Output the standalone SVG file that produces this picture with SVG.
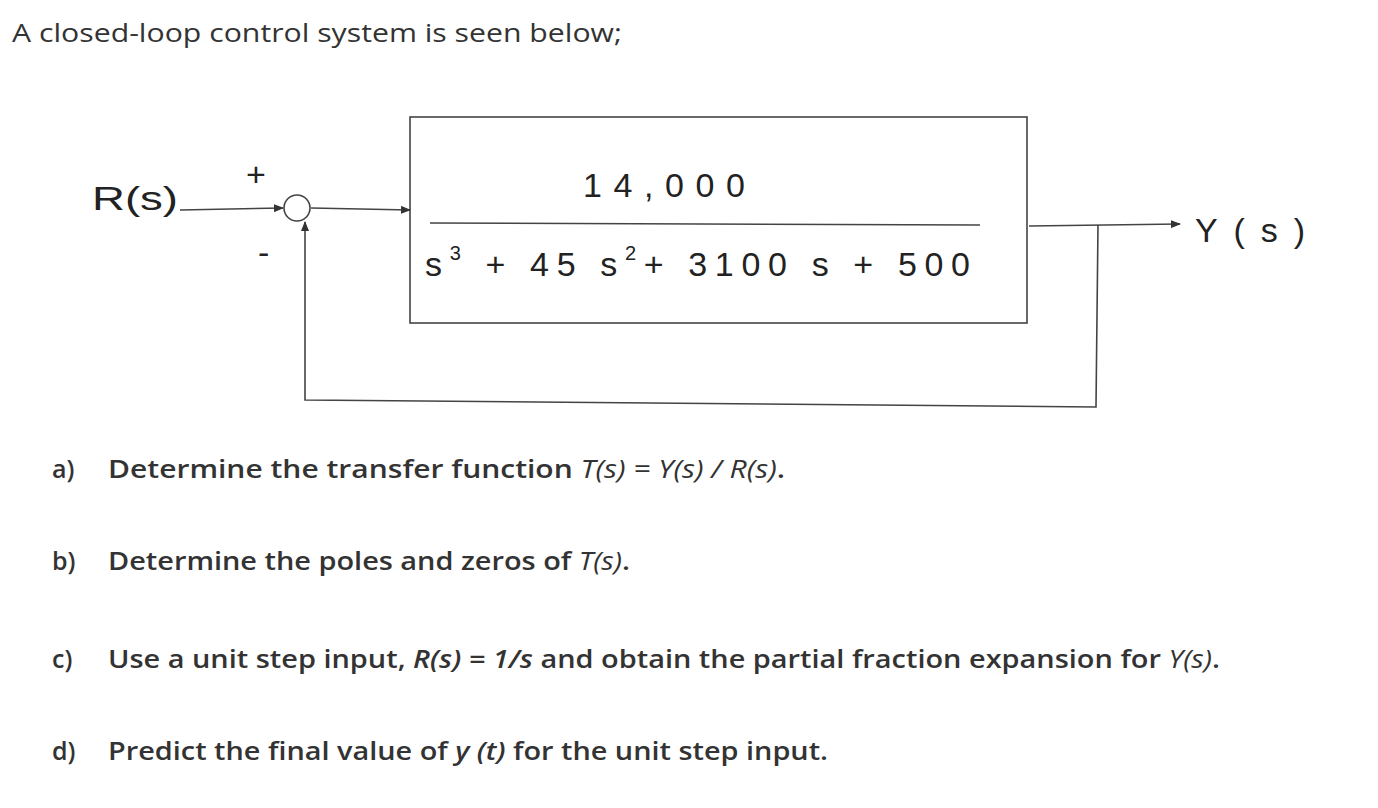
<svg xmlns="http://www.w3.org/2000/svg" width="1378" height="808" viewBox="0 0 1378 808">
<style>
.t{font-family:"Open Sans","Liberation Sans",sans-serif;font-size:25px;font-weight:600;fill:#333}
.n{font-weight:400}
.h{font-family:"Liberation Sans",sans-serif;font-size:34px;fill:#222}
.ln{stroke:#444;stroke-width:1.6;fill:none}
</style>
<defs><marker id="a" markerWidth="10" markerHeight="8" refX="9" refY="4" orient="auto" markerUnits="userSpaceOnUse"><path d="M0,0 L10,4 L0,8z" fill="#333"/></marker></defs>
<rect width="1378" height="808" fill="#fff"/>
<text class="t n" x="12" y="42" textLength="610" lengthAdjust="spacingAndGlyphs">A closed-loop control system is seen below;</text>
<g id="input"><text class="h" x="92" y="210" textLength="86" lengthAdjust="spacingAndGlyphs">R(s)</text></g>
<g id="sum"><circle cx="297" cy="208" r="13" class="ln" stroke-width="2"/>
<text class="h" x="246" y="186" font-size="28">+</text><text class="h" x="258" y="264" font-size="26">-</text></g>
<g id="plant"><rect x="410" y="117" width="617" height="206" class="ln" stroke-width="2"/>
<line x1="430" y1="223" x2="980" y2="225" class="ln"/>
<text class="h" x="583" y="197" textLength="162" lengthAdjust="spacing">14,000</text>
<text class="h" x="425" y="276" textLength="545" lengthAdjust="spacing">s<tspan dy="-16" font-size="20">3</tspan><tspan dy="16"> + 45 s</tspan><tspan dy="-16" font-size="20">2</tspan><tspan dy="16">+ 3100 s  + 500</tspan></text></g>
<g id="output"><text class="h" x="1195" y="242" textLength="110" lengthAdjust="spacing">Y(s)</text></g>
<g id="connectors">
<line x1="180" y1="210" x2="283" y2="208" class="ln" marker-end="url(#a)"/>
<line x1="311" y1="208" x2="410" y2="210" class="ln" marker-end="url(#a)"/>
<line x1="1029" y1="226" x2="1180" y2="224" class="ln" marker-end="url(#a)"/>
<polyline points="1098,225 1096,407 305,400 305,222" class="ln" marker-end="url(#a)"/>
</g>
<text class="t" x="52" y="478">a)</text><text class="t" x="108" y="478" textLength="677" lengthAdjust="spacingAndGlyphs">Determine the transfer function <tspan font-style="italic" class="n">T(s) = Y(s) / R(s)</tspan>.</text>
<text class="t" x="52" y="570">b)</text><text class="t" x="108" y="570" textLength="522" lengthAdjust="spacingAndGlyphs">Determine the poles and zeros of <tspan font-style="italic" class="n">T(s)</tspan>.</text>
<text class="t" x="52" y="668">c)</text><text class="t" x="108" y="668" textLength="1112" lengthAdjust="spacingAndGlyphs">Use a unit step input, <tspan font-style="italic">R(s) = 1/s</tspan> and obtain the partial fraction expansion for <tspan font-style="italic" class="n">Y(s)</tspan>.</text>
<text class="t" x="52" y="760">d)</text><text class="t" x="108" y="760" textLength="720" lengthAdjust="spacingAndGlyphs">Predict the final value of <tspan font-style="italic">y (t)</tspan> for the unit step input.</text>
</svg>
